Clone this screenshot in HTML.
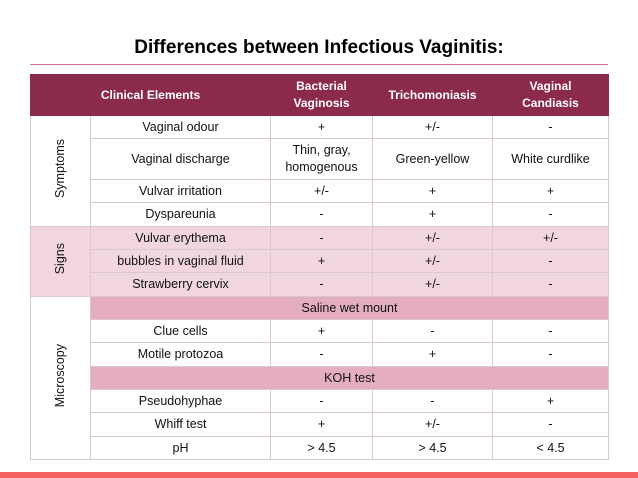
<!DOCTYPE html>
<html><head><meta charset="utf-8"><style>
body{margin:0;width:638px;height:478px;background:#fff;position:relative;overflow:hidden;font-family:"Liberation Sans",sans-serif;}
#title{position:absolute;left:0;width:638px;top:37px;text-align:center;font-weight:bold;font-size:19px;color:#000;}
#rule{position:absolute;left:30px;width:578px;top:64px;height:1px;background:#d9708f;}
#bar{position:absolute;left:0;width:638px;top:472px;height:6px;background:#f4605f;}
table{position:absolute;left:30px;top:74px;border-collapse:collapse;table-layout:fixed;width:578px;font-size:12.5px;color:#111;}
td{border:1px solid #d8c8cf;text-align:center;padding:0;line-height:17px;}
thead td{background:#8b2a4a;color:#fff;font-weight:bold;font-size:12px;height:40px;border-color:#8b2a4a;}
.s td{background:#f2d6df;}
.sub td.x{background:#e4aec0;}
.v{writing-mode:vertical-rl;transform:rotate(180deg);display:inline-block;}
</style></head><body>
<div id="title">Differences between Infectious Vaginitis:</div>
<div id="rule"></div>
<table>
<colgroup><col style="width:60px"><col style="width:180px"><col style="width:102px"><col style="width:120px"><col style="width:116px"></colgroup>
<thead><tr><td colspan="2">Clinical Elements</td><td>Bacterial<br>Vaginosis</td><td>Trichomoniasis</td><td>Vaginal<br>Candiasis</td></tr></thead>
<tbody>
<tr style="height:23px"><td rowspan="4"><span class="v">Symptoms</span></td><td>Vaginal odour</td><td>+</td><td>+/-</td><td>-</td></tr>
<tr style="height:41px"><td>Vaginal discharge</td><td>Thin, gray,<br>homogenous</td><td>Green-yellow</td><td>White curdlike</td></tr>
<tr style="height:23px"><td>Vulvar irritation</td><td>+/-</td><td>+</td><td>+</td></tr>
<tr style="height:24px"><td>Dyspareunia</td><td>-</td><td>+</td><td>-</td></tr>
<tr class="s" style="height:23px"><td rowspan="3"><span class="v">Signs</span></td><td>Vulvar erythema</td><td>-</td><td>+/-</td><td>+/-</td></tr>
<tr class="s" style="height:23px"><td>bubbles in vaginal fluid</td><td>+</td><td>+/-</td><td>-</td></tr>
<tr class="s" style="height:24px"><td>Strawberry cervix</td><td>-</td><td>+/-</td><td>-</td></tr>
<tr class="sub" style="height:23px"><td rowspan="8"><span class="v">Microscopy</span></td><td class="x" colspan="4">Saline wet mount</td></tr>
<tr style="height:23px"><td>Clue cells</td><td>+</td><td>-</td><td>-</td></tr>
<tr style="height:24px"><td>Motile protozoa</td><td>-</td><td>+</td><td>-</td></tr>
<tr class="sub" style="height:23px"><td class="x" colspan="4">KOH test</td></tr>
<tr style="height:23px"><td>Pseudohyphae</td><td>-</td><td>-</td><td>+</td></tr>
<tr style="height:24px"><td>Whiff test</td><td>+</td><td>+/-</td><td>-</td></tr>
<tr style="height:23px"><td>pH</td><td>&gt; 4.5</td><td>&gt; 4.5</td><td>&lt; 4.5</td></tr>
</tbody></table>
<div id="bar"></div>
</body></html>
